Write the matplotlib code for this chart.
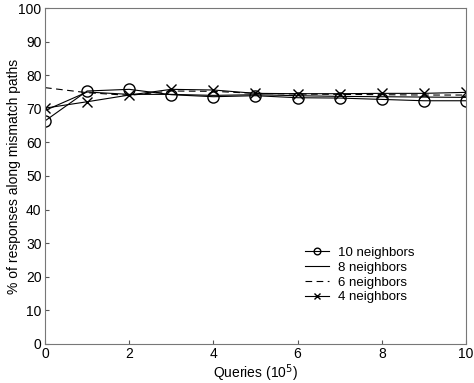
import numpy as np
import matplotlib.pyplot as plt

plt.rcParams['font.family'] = ['Liberation Sans', 'DejaVu Sans']

queries = np.arange(0, 11)
n10 = [66.4, 75.3, 75.8, 74.2, 73.6, 73.9, 73.3, 73.2, 72.8, 72.4, 72.4]
n8 = [69.5, 75.0, 74.3, 74.3, 74.0, 74.2, 73.9, 73.7, 73.6, 73.5, 73.4]
n6 = [76.3, 74.8, 74.0, 75.3, 75.2, 74.6, 74.4, 74.3, 74.2, 74.1, 74.1]
n4 = [70.2, 72.1, 74.1, 75.8, 75.6, 74.6, 74.5, 74.5, 74.6, 74.6, 74.9]

fig = plt.figure(figsize=(4.74, 3.83), dpi=100)
ax = fig.add_axes([0.095, 0.102, 0.888, 0.877])

ax.plot(queries, n10, 'k-', marker='o', mfc='none', ms=8, lw=0.8, label='10 neighbors')
ax.plot(queries, n8, 'k-', lw=0.8, label='8 neighbors')
ax.plot(queries, n6, 'k--', lw=0.8, dashes=(6, 4), label='6 neighbors')
ax.plot(queries, n4, 'k-', marker='x', ms=7, lw=0.8, label='4 neighbors')

ax.set_xlim(0, 10)
ax.set_ylim(0, 100)
ax.set_xticks(range(0, 11, 2))
ax.set_yticks(range(0, 101, 10))
ax.tick_params(direction='in', length=3, labelsize=10, color='#555555')
ax.tick_params(axis='y', pad=2.5)
ax.tick_params(axis='x', pad=2)
for s in ax.spines.values():
    s.set_color('#777777')
ax.set_xlabel('Queries (10$^5$)', fontsize=10, labelpad=1)
ax.set_ylabel('% of responses along mismatch paths', fontsize=10)
ax.yaxis.set_label_coords(-0.058, 0.5)
ax.legend(loc='upper left', frameon=False, fontsize=9.5, bbox_to_anchor=(0.618, 0.289),
          borderaxespad=0, borderpad=0, handlelength=1.8, handletextpad=0.7,
          labelspacing=0.19, markerscale=0.6)

fig.savefig('out.png', dpi=100)
